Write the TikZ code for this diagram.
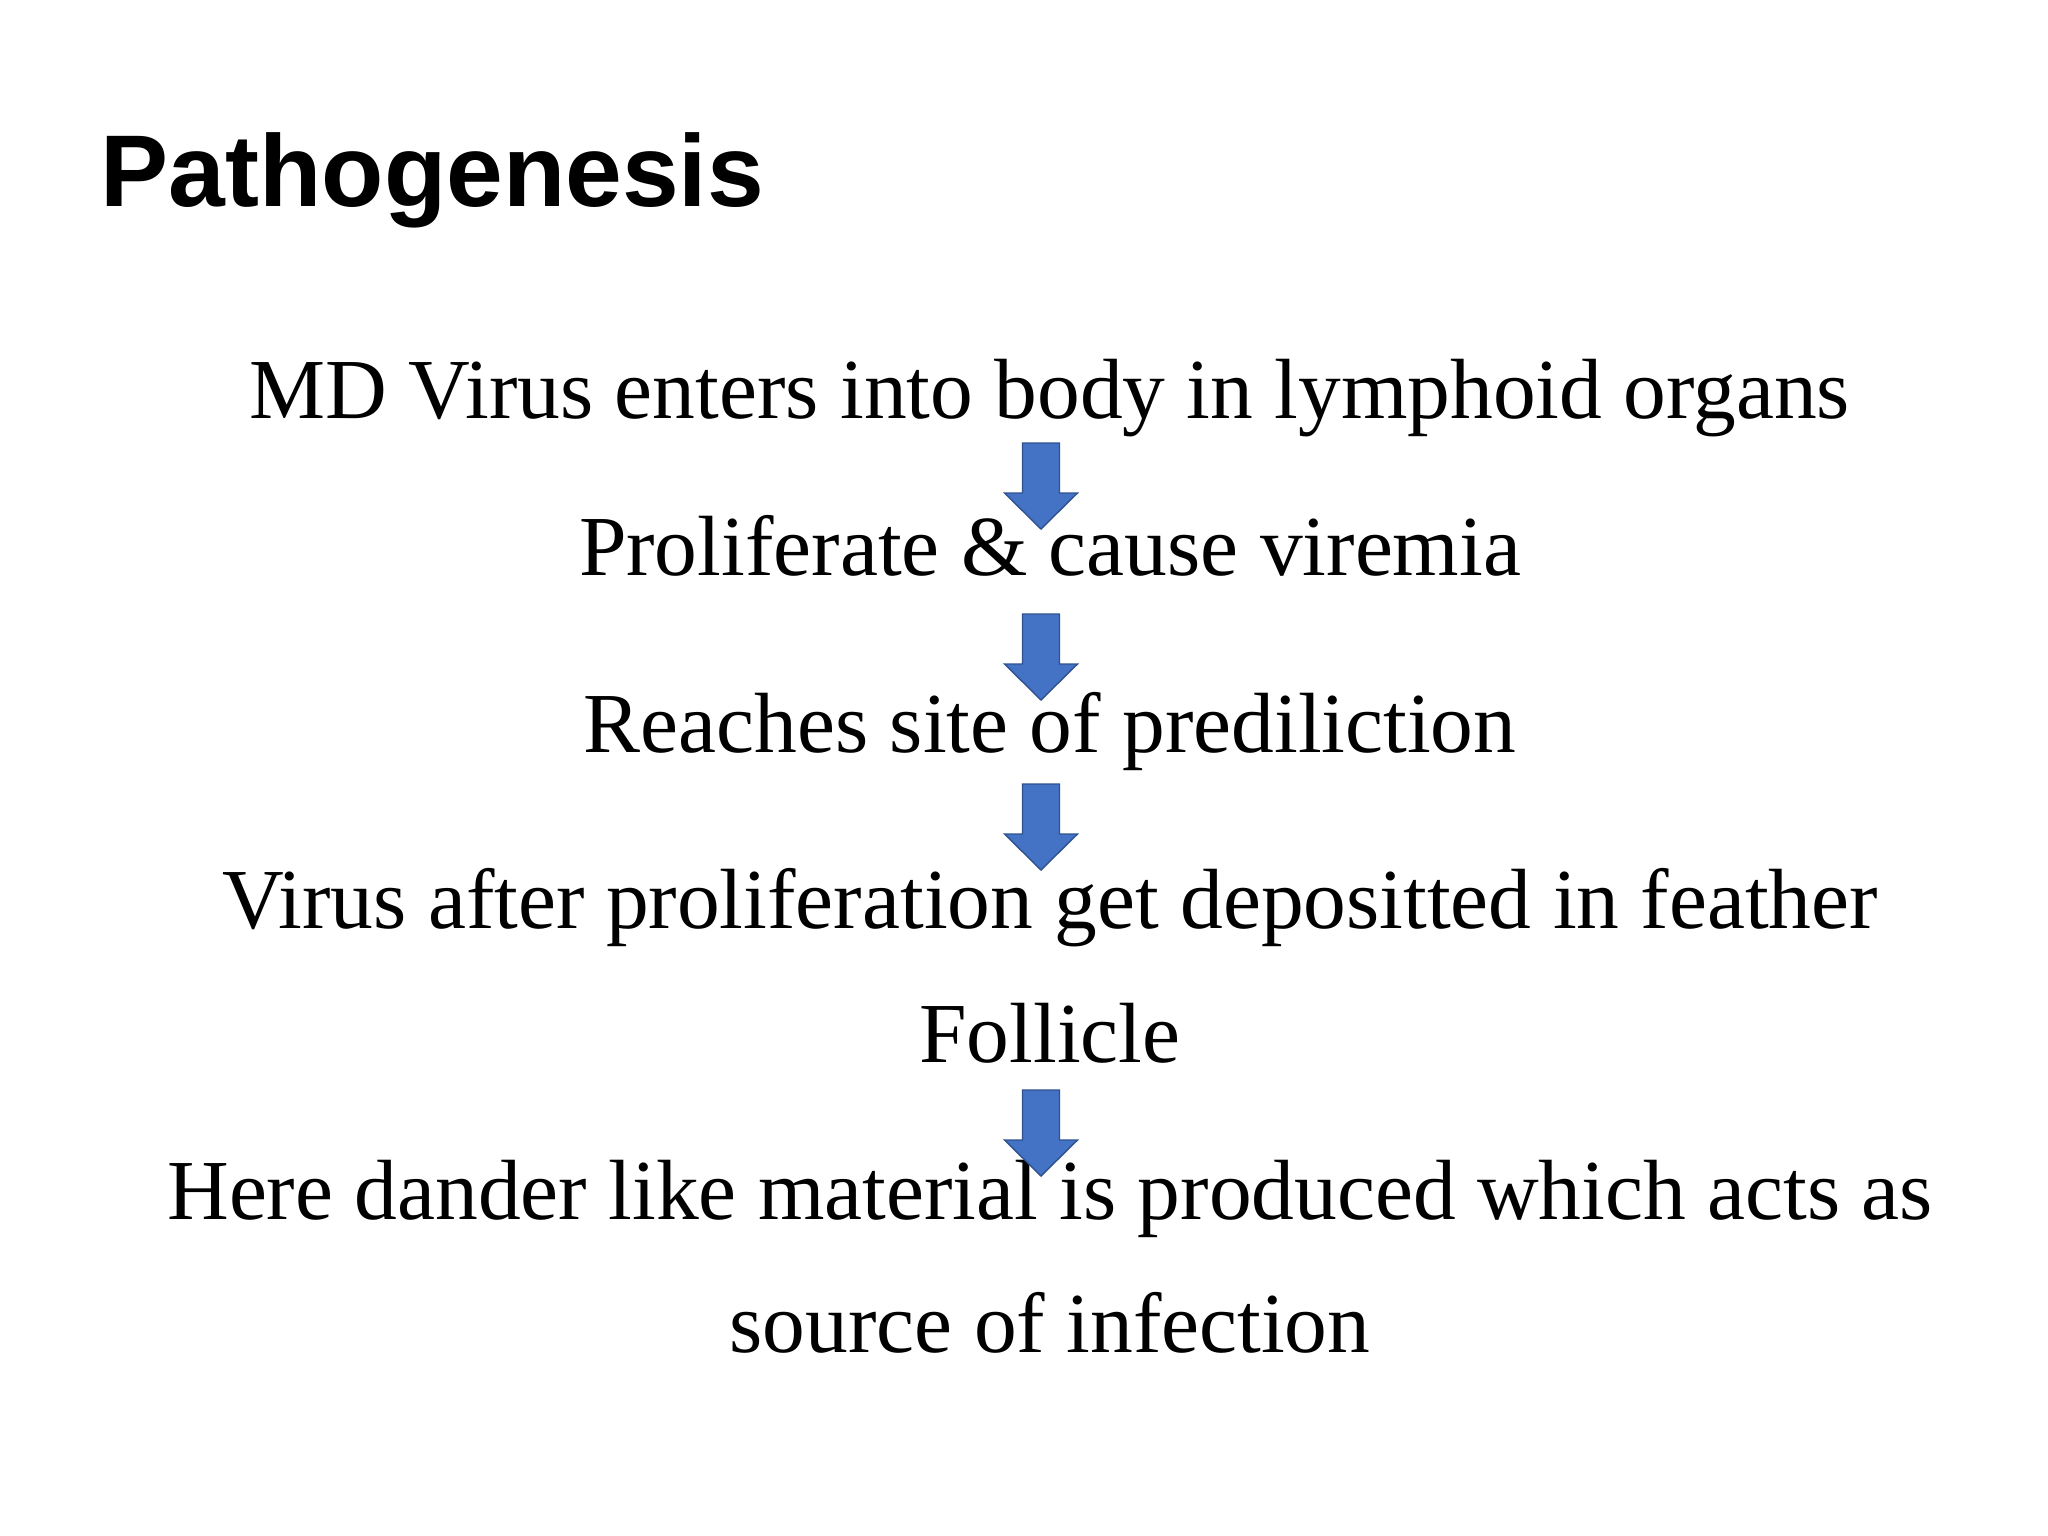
\documentclass[tikz,border=0pt]{standalone}
\usepackage{fontspec}
\setmainfont{Liberation Serif}
\newfontfamily\titlefont{Liberation Sans}
\definecolor{arrowblue}{HTML}{4472C4}
\definecolor{arrowedge}{HTML}{2F528F}
\begin{document}
\begin{tikzpicture}[x=0.01cm,y=-0.01cm,
    line/.style={anchor=base,inner sep=0pt,font=\fontsize{24.3}{29}\selectfont},
    downarrow/.pic={\filldraw[fill=arrowblue,draw=arrowedge,line width=0.4pt,line join=miter]
       (-18.5,0) -- (18.5,0) -- (18.5,50) -- (36.5,50) -- (0,86) -- (-36.5,50) -- (-18.5,50) -- cycle;}]
     \useasboundingbox[fill=white] (0,0) rectangle (2048,1536);
     \node[anchor=base west,inner sep=0pt,font=\titlefont\bfseries\fontsize{29}{35}\selectfont] (title) at (100,206) {Pathogenesis};
     \node[line] (enter) at (1050,418) {MD Virus enters into body in lymphoid organs};
     \node[line] (prolif) at (1050,575) {Proliferate \& cause viremia};
     \node[line] (site) at (1050,752) {Reaches site of prediliction};
     \node[line] (depos) at (1050,928) {Virus after proliferation get depositted in feather};
     \node[line] (foll) at (1050,1062) {Follicle};
     \node[line] (dander) at (1050,1219) {Here dander like material is produced which acts as};
     \node[line] (source) at (1050,1352) {source of infection};
     \foreach \y in {443,614,784,1090}
       \pic at (1041,\y) {downarrow};
   \end{tikzpicture}
\end{document}
